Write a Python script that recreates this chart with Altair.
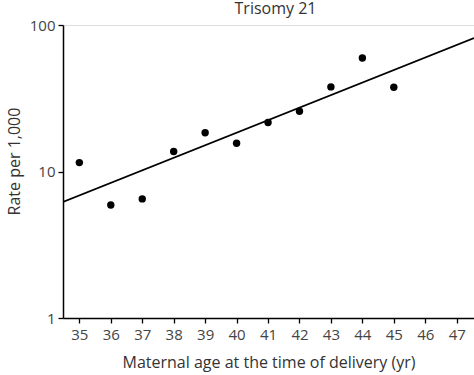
import altair as alt
import pandas as pd

ages = [35, 36, 37, 38, 39, 40, 41, 42, 43, 44, 45]
rates = [11.5, 5.9, 6.5, 13.7, 18.4, 15.6, 21.6, 25.8, 37.8, 59.6, 37.6]
fit_ages = [34.48, 47.55]
fit_rates = [6.2, 81.5]
x_ticks = list(range(35, 48))
y_ticks = [1, 10, 100]

pts = pd.DataFrame({"age": ages, "rate": rates})
fit = pd.DataFrame({"age": fit_ages, "rate": fit_rates})

FONT = "Open Sans"

xscale = alt.Scale(domain=[34.48, 47.55], nice=False, zero=False)
yscale = alt.Scale(type="log", domain=[1, 100], nice=False)

xaxis = alt.Axis(
    title="Maternal age at the time of delivery (yr)",
    values=x_ticks, format="d", grid=False, labelOverlap=False,
    tickSize=5, labelPadding=4, labelFontSize=15, labelColor="#444",
    labelFont=FONT, titleFont=FONT, titleFontSize=16, titleFontWeight="normal",
    titleColor="#333", titleY=44, titleBaseline="middle",
    domainColor="black", tickColor="black", domainWidth=1.5, tickWidth=1.3,
)
yaxis = alt.Axis(
    title="Rate per 1,000",
    values=y_ticks, format="d", grid=False, labelOverlap=False,
    tickSize=5, labelPadding=3, labelFontSize=15, labelColor="#444",
    labelFont=FONT, titleFont=FONT, titleFontSize=16, titleFontWeight="normal",
    titleColor="#333", titleX=-49, titleY=136, titleAngle=270,
    titleAlign="center", titleBaseline="middle",
    domainColor="black", tickColor="black", domainWidth=1.5, tickWidth=1.3,
)

line = alt.Chart(fit).mark_line(color="black", strokeWidth=1.6, clip=True).encode(
    x=alt.X("age:Q", scale=xscale, axis=xaxis),
    y=alt.Y("rate:Q", scale=yscale, axis=yaxis),
)
points = alt.Chart(pts).mark_circle(color="black", size=55, opacity=1).encode(
    x=alt.X("age:Q", scale=xscale, axis=xaxis),
    y=alt.Y("rate:Q", scale=yscale, axis=yaxis),
)

chart = (
    alt.layer(line, points)
    .properties(
        width=411, height=293,
        title=alt.TitleParams("Trisomy 21", font=FONT, fontSize=16, fontWeight="normal",
                              color="#333", offset=1, dx=7, anchor="middle"),
        autosize=alt.AutoSizeParams(type="none"),
        padding={"left": 63, "top": 25, "right": 0, "bottom": 57},
    )
    .configure_view(stroke=None)
    .configure_axis(labelOverlap=False)
    .configure(background="white")
)

chart.save("out.html", embed_options={"renderer": "svg", "actions": False})
